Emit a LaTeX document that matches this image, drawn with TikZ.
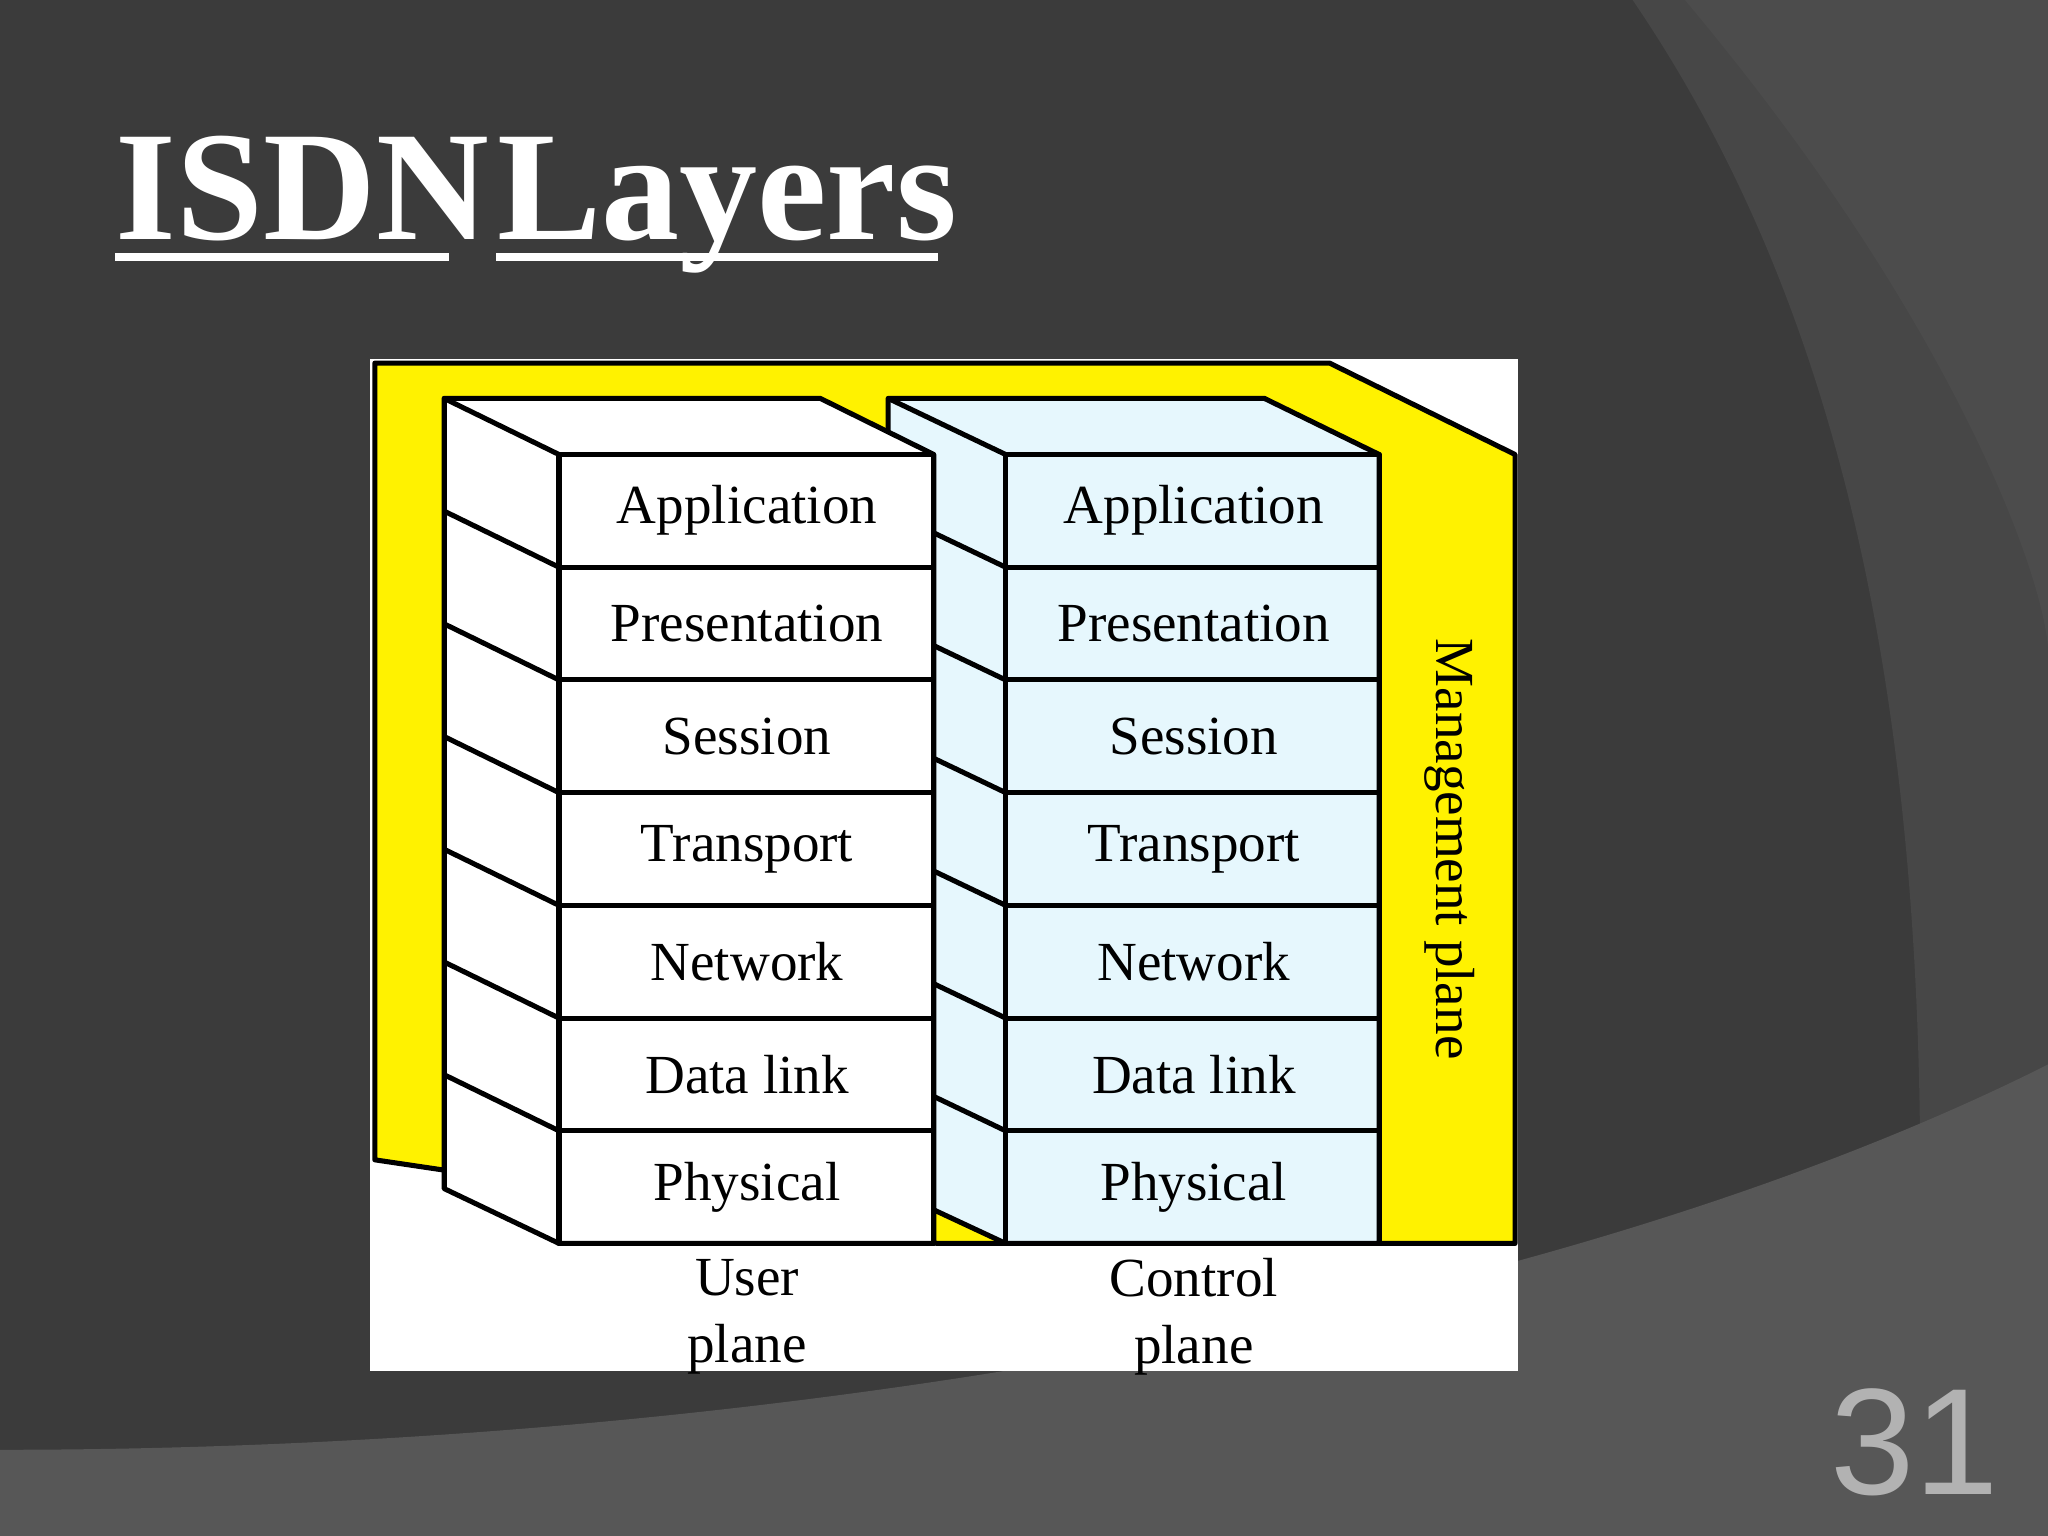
\documentclass[tikz,border=0pt]{standalone}
\usepackage{fontspec}
\setmainfont{Liberation Serif}
\newfontfamily\numfont{Liberation Sans}
\begin{document}
\begin{tikzpicture}[x=0.01cm,y=-0.01cm,
  lay/.style={font=\fontsize{12}{13}\selectfont,text=black},
  edge/.style={draw=black,line width=1.1pt,line join=round}]
\useasboundingbox (0,0) rectangle (1568,1176);
\fill[black!77] (0,0) rectangle (1568,1176);
\fill[black!72] (1250,0) .. controls (1420,250) and (1500,600) .. (1460,1176) -- (1568,1176) -- (1568,0) -- cycle;
\fill[black!70] (1290,0) .. controls (1500,250) and (1568,450) .. (1568,500) -- (1568,0) -- cycle;
\fill[black!66] (0,1110) .. controls (600,1110) and (1200,1000) .. (1568,815) -- (1568,1176) -- (0,1176) -- cycle;
% title
\node[anchor=base west,text=white,font=\fontsize{34}{36}\selectfont\bfseries,inner sep=0] (t1) at (88,183) {ISDN};
\node[anchor=base west,text=white,font=\fontsize{34}{36}\selectfont\bfseries,inner sep=0] (t2) at (380,183) {Layers};
\fill[white] (88,194) rectangle (344,200);
\fill[white] (380,194) rectangle (718,200);
% panel
\fill[white] (283,275) rectangle (1162,1050);
\filldraw[fill=yellow,edge] (287,278) -- (1018,278) -- (1160,348) -- (1160,952) -- (718,952) -- (287,888) -- cycle;
% control stack
\filldraw[fill=cyan!10!white,edge] (680,305) -- (968,305) -- (1056,348) -- (1056,952) -- (770,952) -- (680,910) -- cycle;
\draw[edge] (770,348) -- (1056,348);
\foreach \k in {0,...,6}{
  \draw[edge] (770,{348+\k*86.3}) rectangle (1056,{348+(\k+1)*86.3});
  \draw[edge] (680,{305+\k*86.3}) -- (770,{348+\k*86.3});
}
% user stack
\filldraw[fill=white,edge] (340,305) -- (628,305) -- (715,348) -- (715,952) -- (428,952) -- (340,910) -- cycle;
\foreach \k in {0,...,6}{
  \draw[edge] (428,{348+\k*86.3}) rectangle (715,{348+(\k+1)*86.3});
  \draw[edge] (340,{305+\k*86.3}) -- (428,{348+\k*86.3});
}
\draw[edge] (340,305) -- (340,910);
\foreach \n [count=\k from 0] in {Application,Presentation,Session,Transport,Network,Data link,Physical}{
  \node[lay] (u\k) at (572,{391+\k*86.3}) {\n};
  \node[lay] (c\k) at (914,{391+\k*86.3}) {\n};
}
\node[lay,align=center,font=\fontsize{12}{14.5}\selectfont] (up) at (572,1008) {User\\plane};
\node[lay,align=center,font=\fontsize{12}{14.5}\selectfont] (cp) at (914,1008) {Control\\plane};
\node[lay,rotate=-90] (mp) at (1110,650) {Management plane};
\node[text=black!30,font=\fontsize{33}{35}\selectfont\numfont] (pg) at (1466,1104) {31};
\end{tikzpicture}
\end{document}
